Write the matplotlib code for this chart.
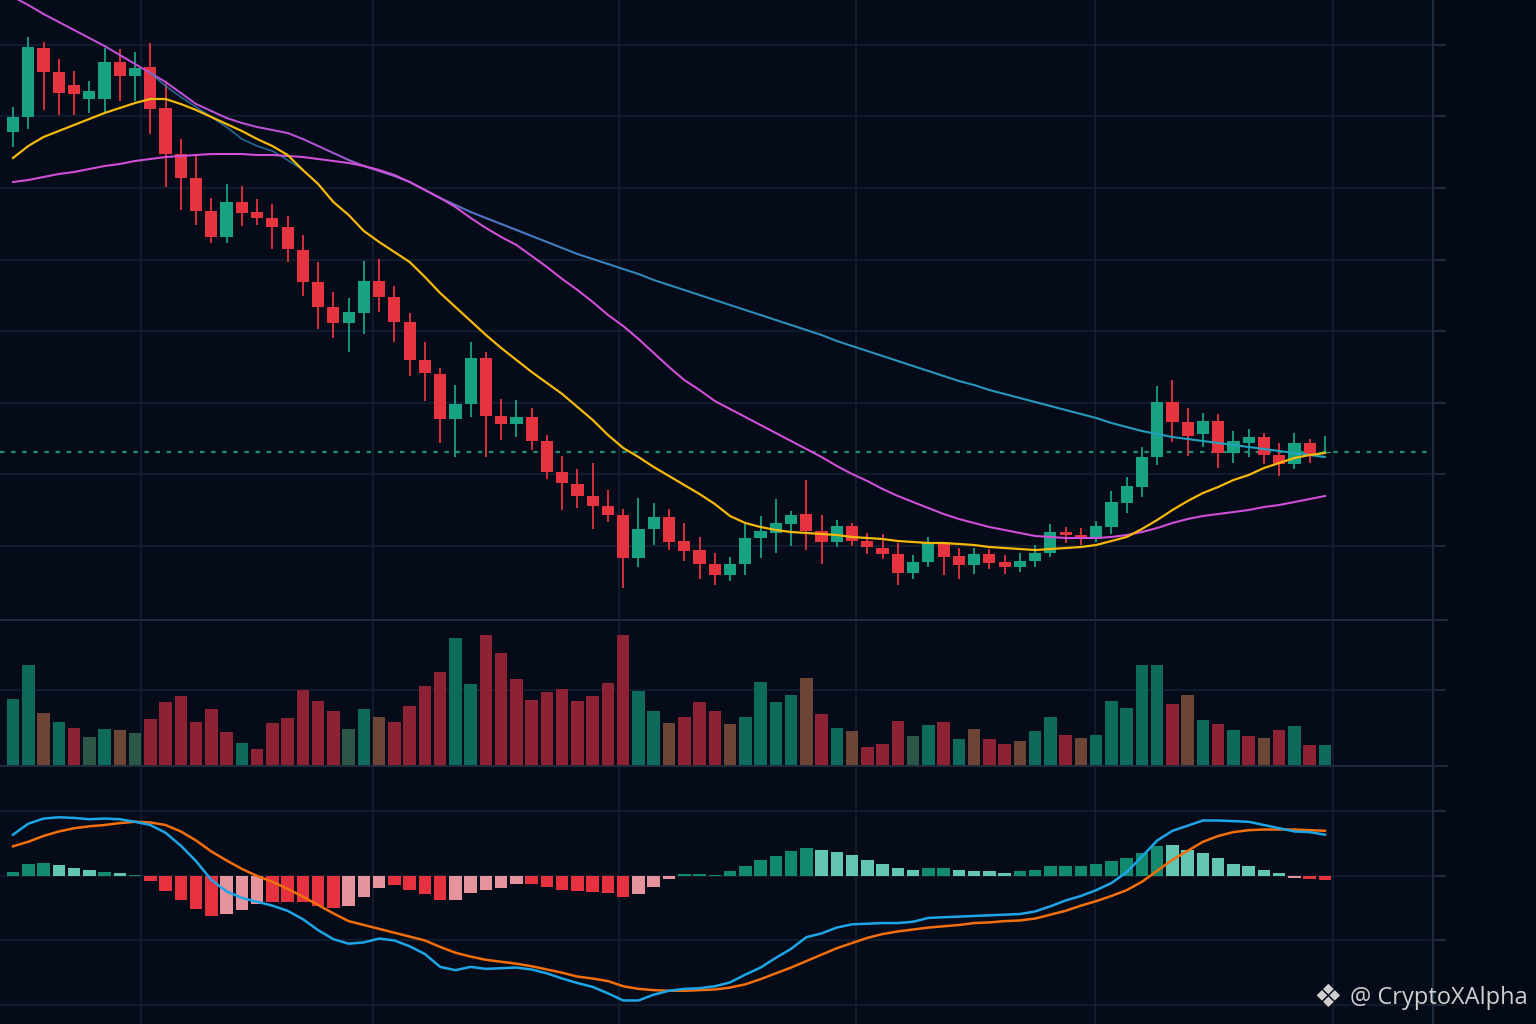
import numpy as np
import matplotlib
matplotlib.use("Agg")
import matplotlib.pyplot as plt
from matplotlib.collections import LineCollection
from matplotlib.colors import LinearSegmentedColormap
from matplotlib.lines import Line2D

# ---------------- data ----------------
opens = [488, 503, 572, 548, 535, 521, 521, 558, 544, 553,
         512, 466, 442, 409, 383, 418, 408, 402, 393, 370,
         338, 313, 297, 307, 339, 323, 298, 260, 246, 201,
         216, 262, 204, 196, 203, 179, 148, 136, 124, 114,
         105, 62, 91, 103, 79, 70, 56, 45, 56, 82,
         87, 96, 106, 89, 78, 94, 79, 72, 66, 47,
         58, 77, 64, 55, 66, 58, 53, 59, 67, 88,
         85, 81, 93, 117, 133, 163, 218, 198, 186, 199,
         167, 177, 183, 165, 156, 177, 167]
highs = [513, 583, 578, 561, 549, 539, 572, 571, 568, 577,
         538, 481, 466, 422, 436, 434, 421, 416, 404, 385,
         358, 328, 322, 359, 361, 334, 307, 278, 252, 235,
         278, 268, 221, 220, 212, 185, 164, 151, 157, 130,
         111, 122, 117, 111, 97, 83, 67, 63, 96, 104,
         121, 109, 140, 105, 100, 97, 87, 86, 77, 65,
         83, 78, 72, 72, 71, 65, 67, 75, 96, 93,
         92, 99, 129, 143, 173, 234, 240, 212, 207, 206,
         189, 191, 187, 177, 187, 181, 184]
lows = [473, 491, 510, 505, 505, 507, 508, 519, 519, 486,
        433, 410, 395, 377, 377, 394, 395, 371, 358, 324,
        291, 282, 268, 286, 308, 278, 244, 219, 177, 163,
        203, 163, 180, 183, 170, 141, 110, 112, 91, 98,
        32, 53, 75, 70, 59, 41, 35, 39, 45, 62,
        67, 74, 70, 56, 73, 74, 66, 61, 35, 41,
        53, 45, 41, 46, 51, 46, 48, 53, 63, 77,
        75, 78, 86, 107, 123, 155, 178, 164, 173, 152,
        157, 163, 156, 144, 151, 157, 167]
closes = [503, 573, 548, 527, 526, 529, 558, 544, 552, 511,
          466, 442, 409, 383, 418, 407, 402, 393, 371, 338,
          313, 297, 308, 339, 323, 298, 260, 247, 201, 216,
          262, 204, 196, 203, 179, 148, 137, 124, 114, 105,
          62, 91, 103, 78, 69, 56, 45, 56, 82, 89,
          97, 105, 89, 78, 94, 79, 73, 66, 47, 58,
          77, 63, 55, 66, 57, 53, 59, 67, 88, 85,
          82, 94, 118, 134, 163, 218, 198, 184, 199, 167,
          179, 183, 165, 156, 177, 166, 168]

ma_fast = [462, 474, 483, 489, 495, 501, 507, 512, 517, 521,
           521, 516, 510, 503, 496, 489, 481, 474, 465, 450,
           436, 418, 405, 389, 378, 368, 358, 343, 327, 313,
           299, 285, 272, 260, 248, 237, 226, 213, 200, 185,
           172, 163, 153, 144, 135, 126, 116, 104, 97, 93,
           90, 88, 87, 86, 85, 83, 82, 81, 79, 78,
           77, 77, 76, 75, 73, 72, 71, 70, 71, 72,
           73, 75, 79, 83, 91, 100, 110, 119, 127, 133,
           140, 145, 152, 157, 162, 165, 167]
ma_mid = [438, 440, 443, 446, 448, 451, 454, 456, 459, 461,
          463, 464, 465, 466, 466, 466, 465, 465, 464, 463,
          461, 459, 457, 454, 450, 445, 438, 430, 422, 413,
          402, 392, 383, 375, 364, 353, 341, 330, 318, 305,
          294, 281, 267, 253, 240, 230, 219, 211, 203, 195,
          187, 179, 171, 163, 154, 146, 139, 131, 124, 118,
          112, 106, 101, 97, 93, 90, 87, 84, 83, 82,
          82, 82, 83, 85, 88, 92, 97, 101, 104, 106,
          108, 110, 113, 115, 118, 121, 124]
ma_slow = [623, 615, 606, 598, 590, 582, 574, 565, 556, 547,
           538, 527, 516, 509, 502, 497, 493, 490, 487, 481,
           474, 467, 460, 454, 449, 444, 438, 430, 422, 415,
           408, 402, 396, 390, 384, 378, 372, 366, 361, 356,
           351, 346, 340, 335, 330, 325, 320, 315, 310, 305,
           300, 295, 290, 285, 279, 274, 269, 264, 259, 254,
           249, 244, 239, 235, 230, 226, 222, 218, 214, 210,
           206, 202, 197, 193, 189, 186, 183, 181, 179, 177,
           175, 173, 171, 169, 167, 165, 163]
ma_aux_start = 9
ma_aux = [547, 534, 523, 513, 503, 493, 481, 474, 469, 460, 450]

volumes = [67, 101, 53, 44, 38, 29, 37, 36, 33, 47,
           64, 70, 44, 57, 34, 23, 17, 43, 48, 76,
           65, 55, 37, 57, 49, 44, 60, 80, 94, 128,
           82, 131, 113, 87, 66, 74, 77, 65, 70, 83,
           131, 75, 55, 43, 49, 64, 55, 42, 49, 84,
           64, 71, 88, 52, 38, 35, 19, 22, 45, 30,
           41, 44, 27, 37, 27, 22, 25, 35, 49, 31,
           28, 31, 65, 58, 101, 101, 62, 71, 46, 42,
           36, 30, 28, 36, 40, 21, 21]
vol_side = list("ggbgrmgbmr" "rrrrrgrrrr" "rrmgbrrrrg" "grrrrrrrrr"
                "rggbrrrbgg" "ggbrgbrrrm" "grgbrrbggr" "bgggggrbgr"
                "grbrgrg")

macd_line = [0.64, 0.81, 0.89, 0.91, 0.90, 0.88, 0.89, 0.88, 0.84, 0.79,
             0.67, 0.47, 0.23, -0.06, -0.24, -0.34, -0.40, -0.46, -0.54, -0.67,
             -0.84, -0.98, -1.05, -1.03, -0.97, -1.00, -1.09, -1.21, -1.41, -1.46,
             -1.41, -1.44, -1.43, -1.42, -1.45, -1.51, -1.59, -1.66, -1.72, -1.82,
             -1.93, -1.93, -1.84, -1.78, -1.75, -1.74, -1.71, -1.65, -1.53, -1.42,
             -1.27, -1.13, -0.95, -0.89, -0.80, -0.75, -0.74, -0.73, -0.73, -0.71,
             -0.65, -0.64, -0.63, -0.62, -0.61, -0.60, -0.59, -0.55, -0.47, -0.38,
             -0.31, -0.22, -0.11, 0.06, 0.30, 0.55, 0.70, 0.78, 0.86, 0.86,
             0.85, 0.84, 0.79, 0.74, 0.69, 0.68, 0.64]
signal_line = [0.46, 0.53, 0.62, 0.69, 0.74, 0.77, 0.79, 0.82, 0.84, 0.83,
               0.79, 0.69, 0.55, 0.38, 0.24, 0.11, 0.00, -0.09, -0.20, -0.32,
               -0.45, -0.58, -0.70, -0.76, -0.82, -0.88, -0.94, -1.00, -1.10, -1.19,
               -1.25, -1.30, -1.33, -1.36, -1.40, -1.45, -1.50, -1.56, -1.59, -1.63,
               -1.71, -1.75, -1.77, -1.78, -1.78, -1.77, -1.76, -1.73, -1.68, -1.60,
               -1.51, -1.42, -1.32, -1.22, -1.12, -1.04, -0.96, -0.90, -0.86, -0.83,
               -0.80, -0.78, -0.76, -0.73, -0.72, -0.70, -0.69, -0.66, -0.60, -0.54,
               -0.46, -0.39, -0.31, -0.22, -0.09, 0.08, 0.25, 0.39, 0.53, 0.62,
               0.68, 0.71, 0.72, 0.72, 0.72, 0.71, 0.70]
macd_hist = [0.06, 0.19, 0.20, 0.17, 0.13, 0.09, 0.06, 0.04, 0.02, -0.08,
             -0.23, -0.38, -0.51, -0.62, -0.59, -0.52, -0.43, -0.41, -0.40, -0.41,
             -0.46, -0.50, -0.47, -0.33, -0.18, -0.14, -0.21, -0.28, -0.38, -0.37,
             -0.26, -0.21, -0.18, -0.13, -0.13, -0.17, -0.21, -0.24, -0.25, -0.27,
             -0.33, -0.28, -0.17, -0.05, 0.03, 0.03, 0.02, 0.07, 0.15, 0.24,
             0.31, 0.38, 0.44, 0.41, 0.37, 0.33, 0.25, 0.18, 0.12, 0.10,
             0.13, 0.13, 0.09, 0.07, 0.07, 0.05, 0.07, 0.10, 0.15, 0.16,
             0.16, 0.19, 0.23, 0.28, 0.36, 0.47, 0.48, 0.41, 0.36, 0.28,
             0.19, 0.15, 0.10, 0.05, -0.03, -0.04, -0.06]
hist_tone = list("GGGLLLGLGR" "RRRRPPPRRR" "RRPPPRRRRP" "PPPPRRRRRR"
                 "RPPPGGGGGG" "GGGLLLLLLL" "GGLLLLGGGG" "GGGGGGLLLL"
                 "LLLLPRR")

watermark = "@ CryptoXAlpha"

# ---------------- style ----------------
W, H = 1536, 1024
BG_OUT = "#030915"
BG = "#050b18"
GRID = "#142131"
SPINE = "#1f2c3d"
UP = "#17a283"
DOWN = "#e5333f"
VOLC = {"g": "#0e6b5b", "r": "#8c2233", "b": "#6c4537", "m": "#2c5748"}
HISTC = {"G": "#118a6d", "L": "#62c6b3", "R": "#e5323e", "P": "#e6949b"}

n = len(opens)
x = np.arange(n)
step = (1321 - 9) / 86.0
x0px = 13  # pixel centre of the first candle
xlim = (-x0px / step, (1433 - x0px) / step)
vgrid_px = [141, 373, 619, 856, 1095, 1333]
vgrid = [(p - x0px) / step for p in vgrid_px]

fig = plt.figure(figsize=(W / 100, H / 100), dpi=100, facecolor=BG_OUT)
right = 1433 / W
ax_p = fig.add_axes([0, 1 - 620 / H, right, 620 / H])
ax_v = fig.add_axes([0, 1 - 766 / H, right, 146 / H])
ax_m = fig.add_axes([0, 0, right, 258 / H])

for ax in (ax_p, ax_v, ax_m):
    ax.set_facecolor(BG)
    ax.set_xlim(*xlim)
    for s in ("left", "top", "bottom"):
        ax.spines[s].set_visible(False)
    ax.spines["right"].set_color(SPINE)
    ax.spines["right"].set_linewidth(1.6)
    ax.set_xticks(vgrid)
    ax.tick_params(axis="x", bottom=False, labelbottom=False)
    ax.tick_params(axis="y", left=False, right=True, labelleft=False,
                   labelright=False, length=9.5, width=1.4, color=SPINE,
                   direction="out")
    ax.grid(True, color=GRID, linewidth=1.1)
    ax.set_axisbelow(True)

# ---- price panel ----
ax_p.set_ylim(0, 620)
ax_p.set_yticks(np.arange(74, 620, 71.6))
o = np.array(opens); c = np.array(closes)
hi = np.array(highs); lo = np.array(lows)
up = c >= o
cols = np.where(up, UP, DOWN)
ax_p.vlines(x, lo, hi, colors=cols, linewidth=1.3, zorder=3)
body_b = np.minimum(o, c)
body_h = np.maximum(np.abs(c - o), 1.5)
ax_p.bar(x, body_h, bottom=body_b, width=0.8, color=cols, linewidth=0, zorder=4)

# slow MA with colour gradient
cmap = LinearSegmentedColormap.from_list(
    "slow", [(0.0, "#c24fd4"), (0.22, "#b652d0"), (0.33, "#5a70c6"),
             (0.48, "#2f88b8"), (1.0, "#20a6be")])
pts = np.column_stack([x, ma_slow]).reshape(-1, 1, 2)
segs = np.concatenate([pts[:-1], pts[1:]], axis=1)
lc = LineCollection(segs, colors=cmap(np.linspace(0, 1, n - 1)), linewidth=1.5,
                    zorder=5, capstyle="round")
ax_p.add_collection(lc)
aux_x = np.arange(ma_aux_start, ma_aux_start + len(ma_aux))
ax_p.plot(aux_x, ma_aux, color="#2f7fae", lw=1.2, alpha=0.8, zorder=5)
ax_p.plot(x, ma_mid, color="#cf4fd6", lw=1.5, zorder=5)
ax_p.plot(x, ma_fast, color="#f6b90b", lw=1.6, zorder=6)
ax_p.axhline(closes[-1], color="#1c8d72", lw=1.6, ls=(0, (2, 3)), zorder=2)

# ---- volume panel ----
ax_v.set_ylim(0, 146)
ax_v.set_yticks([76])
ax_v.bar(x, volumes, width=0.82, color=[VOLC[s] for s in vol_side],
         linewidth=0, zorder=3)

# ---- MACD panel ----
ax_m.set_ylim(-2.295, 1.705)
ax_m.set_yticks([-2, -1, 0, 1])
ax_m.bar(x, macd_hist, width=0.82, color=[HISTC[t] for t in hist_tone],
         linewidth=0, zorder=3)
ax_m.plot(x, signal_line, color="#f46f0c", lw=1.8, zorder=4)
ax_m.plot(x, macd_line, color="#1ea5e6", lw=1.8, zorder=5)

# panel dividers (extend over the tick area)
for ypx in (620, 766):
    fig.add_artist(Line2D([0, 1447 / W], [1 - ypx / H, 1 - ypx / H],
                          color=SPINE, lw=1.4))

# watermark
fig.text(1328 / W, 1 - 998 / H, "\u2756", color="#cfcfcf", fontsize=23,
         ha="center", va="center", family=["DejaVu Sans"])
fig.text(1350 / W, 1 - 998 / H, watermark, color="#cfcfcf", fontsize=17,
         ha="left", va="center", family=["Open Sans", "DejaVu Sans"])

fig.savefig("out.png", dpi=100, facecolor=BG_OUT)
